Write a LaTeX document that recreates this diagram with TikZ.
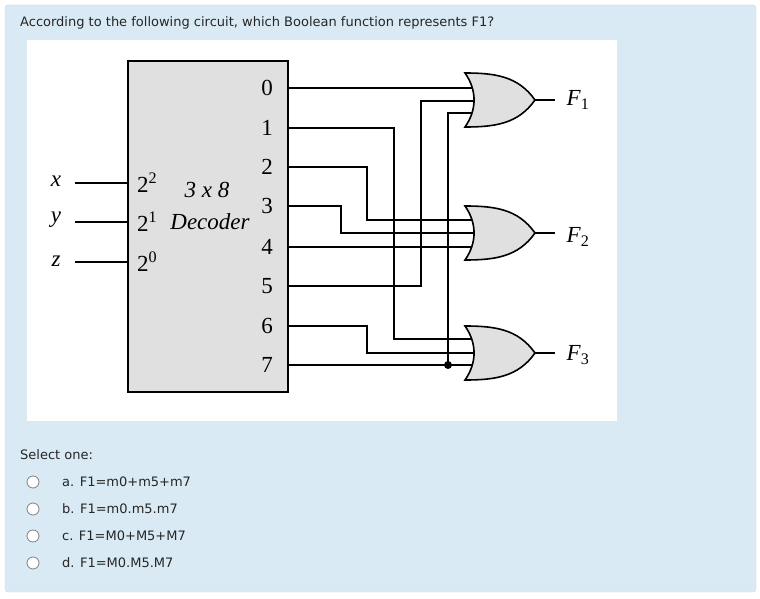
\documentclass[tikz,border=0pt]{standalone}
\usepackage{fontspec}
\setmainfont{Liberation Serif}
\newfontfamily\uifont{DejaVu Sans}
\definecolor{panel}{HTML}{D9EAF4}
\definecolor{panelb}{HTML}{C5DCEA}
\definecolor{gatefill}{HTML}{E0E0E0}
\begin{document}
\begin{tikzpicture}[x=1pt,y=-1pt,
  wire/.style={line width=1.6pt},
  ui/.style={font=\uifont\fontsize{13}{15}\selectfont, text=black!85, anchor=west, inner sep=0},
  lab/.style={font=\fontsize{23}{26}\selectfont, inner sep=0},
  gate/.style={draw, line width=1.6pt, fill=gatefill}]
\useasboundingbox (0,0) rectangle (760,599);
\fill[white] (0,0) rectangle (760,599);
\draw[fill=panel, draw=panelb, rounded corners=3] (5,5) rectangle (756,592);
\fill[white] (27,40) rectangle (617,421);
\node[ui] (q) at (20,23) {According to the following circuit, which Boolean function represents F1?};
% decoder
\draw[gate] (128,61) rectangle (288,392);
\foreach \i/\yy in {0/88,1/128,2/167,3/206,4/247,5/286,6/326,7/365}
  \node[lab] (o\i) at (267,\yy) {\i};
\node[lab,anchor=west] (i2) at (137,183) {2\textsuperscript{2}};
\node[lab,anchor=west] (i1) at (137,222) {2\textsuperscript{1}};
\node[lab,anchor=west] (i0) at (137,262) {2\textsuperscript{0}};
\node[lab] (t1) at (207,190) {\itshape 3 x 8};
\node[lab] (t2) at (210,222) {\itshape Decoder};
\node[lab] (lx) at (56,181) {\itshape x};
\node[lab] (ly) at (56,220) {\itshape y};
\node[lab] (lz) at (56,261) {\itshape z};
\draw[wire] (75,183) -- (128,183);
\draw[wire] (75,222) -- (128,222);
\draw[wire] (75,262) -- (128,262);
% gates
\foreach \m in {100,233,353}{
  \draw[gate] (465,\m-27) to[out=-55,in=55] (465,\m+27)
     to[out=0,in=235] (535,\m) to[out=125,in=0] (465,\m-27) -- cycle;
  \draw[wire] (535,\m) -- (555,\m);
}
% wires
\draw[wire] (288,88) -- (472,88);
\draw[wire] (288,128) -- (394,128) -- (394,339) -- (472,339);
\draw[wire] (288,167) -- (367,167) -- (367,220) -- (472,220);
\draw[wire] (288,206) -- (341,206) -- (341,233) -- (475,233);
\draw[wire] (288,247) -- (472,247);
\draw[wire] (288,286) -- (421,286) -- (421,101) -- (475,101);
\draw[wire] (288,326) -- (367,326) -- (367,353) -- (475,353);
\draw[wire] (288,365) -- (472,365);
\draw[wire] (448,365) -- (448,113) -- (472,113);
\fill (448,365) circle (4);
\node[lab] (f1) at (578,100) {\itshape F\textsubscript{\upshape 1}};
\node[lab] (f2) at (578,237) {\itshape F\textsubscript{\upshape 2}};
\node[lab] (f3) at (578,355) {\itshape F\textsubscript{\upshape 3}};
% options
\node[ui] (s) at (20,455) {Select one:};
\foreach \t/\yy in {{a. F1=m0+m5+m7}/482,{b. F1=m0.m5.m7}/509,{c. F1=M0+M5+M7}/536,{d. F1=M0.M5.M7}/563}{
  \draw[black!50, fill=white, line width=0.8pt] (33,\yy) circle (6);
  \node[ui] at (62,\yy) {\t};
}
\end{tikzpicture}
\end{document}
